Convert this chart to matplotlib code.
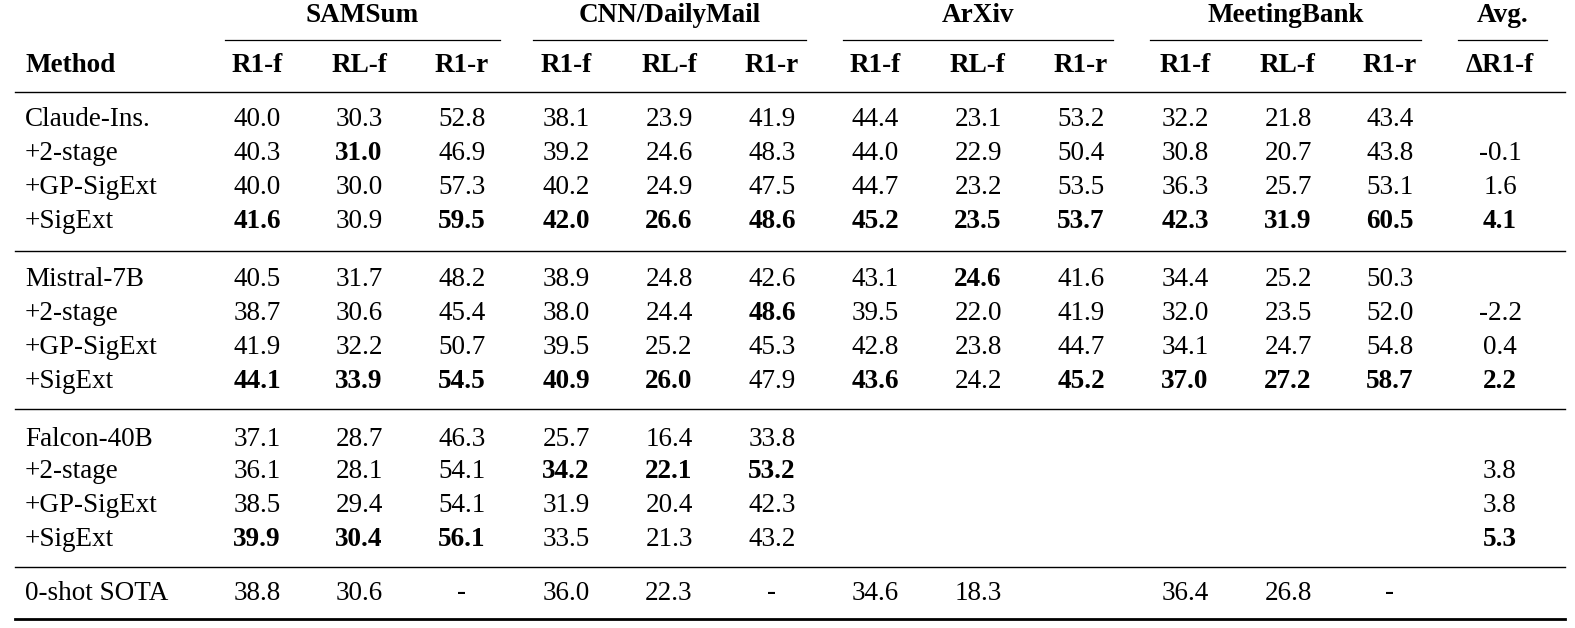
import matplotlib
matplotlib.use("Agg")
import matplotlib.pyplot as plt

groups = ["SAMSum", "CNN/DailyMail", "ArXiv", "MeetingBank", "Avg."]
subcols = ["R1-f", "RL-f", "R1-r"] * 4 + ["ΔR1-f"]
methods = ["Claude-Ins.", "+2-stage", "+GP-SigExt", "+SigExt",
           "Mistral-7B", "+2-stage", "+GP-SigExt", "+SigExt",
           "Falcon-40B", "+2-stage", "+GP-SigExt", "+SigExt",
           "0-shot SOTA"]
# '**' marks bold cells
values = [
    "40.0 30.3 52.8 38.1 23.9 41.9 44.4 23.1 53.2 32.2 21.8 43.4 _",
    "40.3 **31.0 46.9 39.2 24.6 48.3 44.0 22.9 50.4 30.8 20.7 43.8 -0.1",
    "40.0 30.0 57.3 40.2 24.9 47.5 44.7 23.2 53.5 36.3 25.7 53.1 1.6",
    "**41.6 30.9 **59.5 **42.0 **26.6 **48.6 **45.2 **23.5 **53.7 **42.3 **31.9 **60.5 **4.1",
    "40.5 31.7 48.2 38.9 24.8 42.6 43.1 **24.6 41.6 34.4 25.2 50.3 _",
    "38.7 30.6 45.4 38.0 24.4 **48.6 39.5 22.0 41.9 32.0 23.5 52.0 -2.2",
    "41.9 32.2 50.7 39.5 25.2 45.3 42.8 23.8 44.7 34.1 24.7 54.8 0.4",
    "**44.1 **33.9 **54.5 **40.9 **26.0 47.9 **43.6 24.2 **45.2 **37.0 **27.2 **58.7 **2.2",
    "37.1 28.7 46.3 25.7 16.4 33.8 _ _ _ _ _ _ _",
    "36.1 28.1 54.1 **34.2 **22.1 **53.2 _ _ _ _ _ _ 3.8",
    "38.5 29.4 54.1 31.9 20.4 42.3 _ _ _ _ _ _ 3.8",
    "**39.9 **30.4 **56.1 33.5 21.3 43.2 _ _ _ _ _ _ **5.3",
    "38.8 30.6 - 36.0 22.3 - 34.6 18.3 _ 36.4 26.8 - _",
]

fig = plt.figure(figsize=(15.75, 6.28), dpi=100)
ax = fig.add_axes([0, 0, 1, 1])
ax.set_xlim(0, 1575); ax.set_ylim(628, 0); ax.axis("off")
fam = "Liberation Serif"
fs = 19.5

colx = [257, 359, 462, 566, 669, 772, 875, 978, 1081, 1185, 1288, 1390, 1500]
grp_span = [(225, 500), (533, 806), (843, 1113), (1150, 1421), (1458, 1547)]
for g, (a, b) in zip(groups, grp_span):
    ax.text((a + b) / 2, 15, g, ha="center", va="center", fontsize=fs, fontweight="bold", family=fam)
    ax.plot([a, b], [40, 40], color="black", lw=0.9)
ax.text(25, 66, "Method", ha="left", va="center", fontsize=fs, fontweight="bold", family=fam)
for x, s in zip(colx, subcols):
    ax.text(x, 66, s, ha="center", va="center", fontsize=fs, fontweight="bold", family=fam)

rowy = [119, 154, 188, 222, 280, 313, 347, 381, 439, 472, 506, 540, 593]
for y, m, row in zip(rowy, methods, values):
    ax.text(25, y, m, ha="left", va="center", fontsize=fs, family=fam)
    for x, v in zip(colx, row.split()):
        if v == "_":
            continue
        bold = v.startswith("**")
        ax.text(x, y, v.strip("*"), ha="center", va="center", fontsize=fs,
                fontweight="bold" if bold else "normal", family=fam)

for y in [92, 251, 409, 567]:
    ax.plot([15, 1565], [y, y], color="black", lw=1.0)
ax.plot([15, 1565], [619, 619], color="black", lw=2.0)
fig.savefig("out.png", dpi=100)
